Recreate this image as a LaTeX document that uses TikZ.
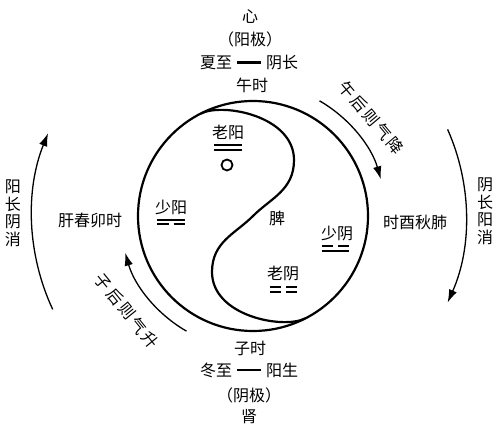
\documentclass[tikz,border=0pt]{standalone}
\usepackage{fontspec}
\newfontfamily\cjk{Noto Sans CJK SC}
\usetikzlibrary{arrows.meta,calc}
\newcommand{\gp}{\kern2.5pt}
\begin{document}
\begin{tikzpicture}[x=1pt,y=1pt,
  lbl/.style={font=\cjk\fontsize{16}{18}\selectfont, inner sep=0pt},
  vert/.style={align=center, inner sep=0pt, font=\cjk\fontsize{16}{17.5}\selectfont},
  flow/.style={line width=1.3pt, -{Latex[length=13pt,width=8.5pt]}},
  yinyang/.style={line width=2.2pt},
  bar/.style={line width=2pt}]
\useasboundingbox[fill=white] (0,0) rectangle (500,430);
\coordinate (C) at (253,214);
% yin-yang
\draw[yinyang] (C) circle[radius=115];
\begin{scope}[shift={(253,214)}]
\coordinate (sA) at (-52,102.5);
\coordinate (sR) at (41,56);
\coordinate (sO) at (0,0);
\coordinate (sL) at (-41,-56);
\coordinate (sB) at (52,-102.5);
\draw[yinyang] (sA) .. controls (-30,113.5) and (41,100) .. (sR)
  .. controls (41,26) and (18,18) .. (sO)
  .. controls (-18,-18) and (-41,-26) .. (sL)
  .. controls (-41,-100) and (30,-113.5) .. (sB);
\end{scope}
% top labels
\node[lbl] (xin) at (250,413) {心};
\node[lbl] (yangji) at (250,391) {（阳极）};
\node[lbl] (xiazhi) at (249,367) {夏至\hspace{5pt}\rule[5pt]{24pt}{2.5pt}\hspace{5pt}阴长};
\node[lbl] (wushi) at (252,345) {午时};
% bottom labels
\node[lbl] (zishi) at (250,82) {子时};
\node[lbl] (dongzhi) at (249,60) {冬至\hspace{5pt}\rule[5pt]{24pt}{2.5pt}\hspace{5pt}阳生};
\node[lbl] (yinji) at (249,35) {（阴极）};
\node[lbl] (shen) at (249,13) {肾};
% side labels
\node[lbl] (gan) at (90,210) {肝春卯时};
\node[lbl] (fei) at (415,208) {时酉秋肺};
\node[vert] (lv) at (13,217) {阳\\长\\阴\\消};
\node[vert] (rv) at (485,219) {阴\\长\\阳\\消};
% arcs
\coordinate (la) at ($(C)+(205:221)$);
\draw[flow] (la) arc[start angle=205, end angle=158, radius=221];
\coordinate (ra) at ($(C)+(24:213)$);
\draw[flow] (ra) arc[start angle=24, end angle=-24, radius=213];
\coordinate (ua) at ($(C)+(60:133)$);
\draw[flow] (ua) arc[start angle=60, end angle=16, radius=133];
\coordinate (da) at ($(C)+(240:133)$);
\draw[flow] (da) arc[start angle=240, end angle=196, radius=133];
\node[lbl, rotate=-50] (jiang) at ($(C)+(39.7:154)$) {午\gp 后\gp 则\gp 气\gp 降};
\node[lbl, rotate=-51] (sheng) at ($(C)+(217:158)$) {子\gp 后\gp 则\gp 气\gp 升};
% inner
\node[lbl] (pi) at (277,212) {脾};
\node[lbl] (laoyang) at (228,298) {老阳};
\draw[bar] (214,285) -- (242,285);
\draw[bar] (214,280) -- (242,280);
\draw[line width=1.8pt] (227,265) circle[radius=5.5];
\node[lbl] (shaoyang) at (171,223) {少阳};
\draw[bar] (157,210) -- (185,210);
\draw[bar] (157,206) -- (168.5,206);
\draw[bar] (173.5,206) -- (185,206);
\node[lbl] (shaoyin) at (337,197) {少阴};
\draw[bar] (322,184) -- (333,184);
\draw[bar] (338,184) -- (349,184);
\draw[bar] (322,179) -- (349,179);
\node[lbl] (laoyin) at (283,157) {老阴};
\draw[bar] (270,143) -- (281,143);
\draw[bar] (286,143) -- (297,143);
\draw[bar] (270,138) -- (281,138);
\draw[bar] (286,138) -- (297,138);
\end{tikzpicture}
\end{document}
